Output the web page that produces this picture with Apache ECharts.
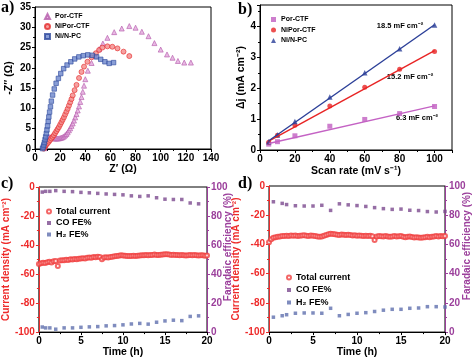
<!DOCTYPE html>
<html><head><meta charset="utf-8">
<script src="https://cdn.jsdelivr.net/npm/echarts@6/dist/echarts.min.js"></script>
<style>html,body{margin:0;padding:0;background:#fff}#c{width:474px;height:359px}</style>
</head><body><div id="c"></div>
<script>
// ---------- Panel a: Nyquist plots [Z', -Z''] ----------
const porNyquist = [[7.5,0.2],[8,0.8],[8.5,1.5],[9,2.1],[9.6,2.6],[10.3,2.9],[11,3.0],[12,2.9],[13,2.8],[14,2.7],[15,2.6],[16,2.6],[17,2.6],[18,2.6],[19,2.6],[20,2.7],[21,2.8],[22,2.9],[23,3.1],[24,3.4],[25,3.7],[26,4.1],[27,4.6],[28,5.1],[29,5.7],[30,6.3],[31,7.0],[32,7.8],[33,8.6],[34,9.5],[35,10.5],[36,11.6],[37,12.8],[38,14.1],[39,15.6],[40,17.2],[42,19.3],[45,21.2],[48,22.9],[51,24.6],[54,26.0],[57.6,27.4],[63,28.8],[69,29.7],[75,30.3],[80,29.9],[85,28.9],[90.3,27.8],[95,26.1],[100,24.5],[105,23.3],[109.4,22.5],[113.7,21.7],[118.7,21.3],[124,21.3]];
const niporNyquist = [[7,0.1],[7.5,0.4],[8,0.7],[8.5,0.9],[9,1.1],[10,1.4],[11,1.8],[12,2.2],[13,2.6],[14,3.0],[15,3.4],[16,3.9],[17,4.4],[18,4.9],[19,5.4],[20,6.0],[21,6.6],[22,7.2],[23,7.8],[24,8.5],[25,9.2],[26,9.9],[27,10.7],[28,11.5],[29,12.3],[30,13.2],[31.5,14.5],[33,15.8],[35,17.5],[37,19.0],[39,20.3],[41.7,21.5],[45,22.6],[48.4,23.6],[51,24.4],[53.6,25.0],[57.6,25.3],[61.5,25.2],[65.6,24.8],[70.4,24.0],[75,22.9]];
const ninNyquist = [[6,0.1],[6.5,0.5],[7,1.0],[7.5,1.6],[8,2.3],[8.5,3.0],[9,3.8],[9.5,4.7],[10,5.7],[10.5,6.8],[11,7.9],[11.6,9.1],[12.3,10.4],[13,11.8],[14,13.3],[15.3,14.8],[16.8,16.2],[18.6,17.4],[20.5,18.6],[22.8,19.8],[25.5,20.7],[28.5,21.5],[31.6,22.2],[34.9,22.7],[38.4,23.0],[42,23.2],[45.6,23.1],[49,22.7],[52.3,22.1],[55.6,21.5],[59,21.1],[62.5,21.3]];

// ---------- Panel b: Δj vs scan rate ----------
const scanRate = [5,10,20,40,60,80,100];
const porDj   = [0.19,0.27,0.46,0.77,0.99,1.18,1.41];
const niporDj = [0.25,0.48,0.80,1.43,2.03,2.62,3.19];
const ninDj   = [0.27,0.49,0.92,1.72,2.50,3.28,4.05];
const fitX = [5,100];
const porFit = [0.21,1.43];
const niporFit = [0.29,3.22];
const ninFit = [0.30,4.06];
const capLabels = ['18.5 mF cm⁻²','15.2 mF cm⁻²','6.3 mF cm⁻²'];

// ---------- Panels c, d: stability ----------
const timeDense = [0,0.25,0.5,0.75,1,1.25,1.5,1.75,2,2.25,2.5,2.75,3,3.25,3.5,3.75,4,4.25,4.5,4.75,5,5.25,5.5,5.75,6,6.25,6.5,6.75,7,7.25,7.5,7.75,8,8.25,8.5,8.75,9,9.25,9.5,9.75,10,10.25,10.5,10.75,11,11.25,11.5,11.75,12,12.25,12.5,12.75,13,13.25,13.5,13.75,14,14.25,14.5,14.75,15,15.25,15.5,15.75,16,16.25,16.5,16.75,17,17.25,17.5,17.75,18,18.25,18.5,18.75,19,19.25,19.5,19.75,20];
const currentC = [-53,-52.6,-52.2,-52.4,-51.8,-51.5,-52,-51.2,-51,-54.5,-50.6,-50.4,-50.5,-50.1,-50.3,-49.8,-49.9,-49.6,-49.8,-49.4,-49.3,-49.1,-49.2,-48.8,-48.6,-48.7,-48.3,-48.4,-48.1,-48.3,-49.8,-48.6,-48.4,-48.6,-48.2,-48.0,-47.8,-47.6,-47.3,-47.1,-47.2,-47.4,-47.6,-47.5,-47.6,-47.4,-47.5,-47.3,-47.2,-47.0,-47.1,-46.9,-47.0,-46.8,-46.9,-46.6,-46.8,-46.9,-46.7,-46.5,-46.4,-46.3,-46.6,-46.8,-46.7,-46.9,-46.8,-47,-46.9,-47.1,-47.2,-47,-46.9,-47.1,-46.8,-47,-47.2,-47.0,-47.1,-47.3,-47.2];
const currentD = [-38.5,-36.5,-35.5,-35,-34.8,-34.5,-34.3,-34.2,-34,-34.2,-33.8,-34,-33.9,-34.2,-34,-33.8,-33.7,-34,-34.2,-33.9,-34,-34.3,-34.6,-34.8,-34.5,-34,-33.5,-33,-32.6,-32.8,-33,-33.3,-33.5,-33.2,-33.4,-33.6,-33.3,-33.5,-33.8,-33.7,-34,-33.8,-34,-34.2,-34,-34.3,-34.1,-34.4,-37,-34.5,-34.2,-34.4,-34.6,-34.3,-34.5,-34.8,-34.5,-34.2,-34.6,-34.4,-34.3,-34.7,-35,-34.8,-34.6,-34.9,-35.2,-35,-35.3,-35.5,-35.2,-35,-34.8,-35.1,-34.7,-34.5,-34.3,-34.6,-34.2,-34.4,-34.3];
const timeFeC = [0.4,0.8,1.3,2,3,4,5,6,7,8,9,10,11,12,13,14,15,16,17,18,19];
const coFeC = [96.5,97,97,97.5,97,96.8,96.3,96,95.6,95.2,94.9,94.6,93.9,93.5,93.9,92.6,91.6,91.4,91.4,89,88.4];
const h2FeC = [3.5,2.9,2.9,2,2.9,2.9,3.3,3.6,3.8,4.3,4.5,5,5.6,6,5.5,6.8,7.7,8.2,7.9,10.8,11.2];
const timeFeD = [0.5,1.5,2,3,4,5,6,7,8,9,10,11,12,13,14,15,16,17,18,19,20];
const coFeD = [89.2,88.1,87.3,86.5,86.3,86.3,86.8,83.3,87.8,87.1,86.6,86.0,85.2,84.5,84.0,84.2,83.4,83.2,82.5,82.2,82.6];
const h2FeD = [10.2,11.2,11.9,12.9,13.1,13.1,12.9,16.3,11.2,12.1,12.9,13.3,14.1,15.0,15.6,15.6,16.3,16.5,17.4,17.4,17.2];

const F = '"Liberation Sans", Arial, sans-serif';
const RED = '#ee2b2b', PURP = '#9b3f9b';
const zip = (xs, ys) => xs.map((x,i)=>[x, ys[i]]);

function ax(extra, color){
  color = color || '#000';
  const a = {type:'value',
    axisLine:{show:true,onZero:false,lineStyle:{color:color,width:1}},
    axisTick:{show:true,length:3,lineStyle:{color:color}},
    minorTick:{show:true,splitNumber:2,length:2,lineStyle:{color:color}},
    splitLine:{show:false}, minorSplitLine:{show:false},
    axisLabel:{color:color,fontSize:10,fontWeight:'bold',fontFamily:F,margin:4},
    nameLocation:'middle',
    nameTextStyle:{color:color,fontSize:10.5,fontWeight:'bold',fontFamily:F}};
  for (const k in extra){
    if (extra[k] && typeof extra[k]==='object' && !Array.isArray(extra[k]) && a[k]) a[k]=Object.assign({},a[k],extra[k]);
    else a[k]=extra[k];
  }
  return a;
}

const chart = echarts.init(document.getElementById('c'), null, {renderer:'canvas'});
const legendText = s => ({fontSize:s,fontWeight:'bold',fontFamily:F,color:'#000'});
const serifBold = 'bold 16px "Liberation Serif", "Times New Roman", serif';

const option = {
  animation:false,
  backgroundColor:'#fff',
  grid:[
    {left:35,top:7,width:176,height:142,show:true,borderColor:'#000',borderWidth:1},
    {left:260,top:5,width:192,height:145,show:true,borderColor:'#000',borderWidth:1},
    {left:32,top:187,width:175,height:146,show:true,borderColor:'#000',borderWidth:1},
    {left:269,top:186,width:176,height:147,show:true,borderColor:'#000',borderWidth:1}
  ],
  xAxis:[
    ax({gridIndex:0,min:0,max:140,interval:20,name:'Z′ (Ω)',nameGap:15}),
    ax({gridIndex:1,min:0,max:110,interval:20,name:'Scan rate (mV s⁻¹)',nameGap:16,axisLabel:{showMaxLabel:false}}),
    ax({gridIndex:2,min:0,max:20,interval:5,name:'Time (h)',nameGap:10}),
    ax({gridIndex:3,min:0,max:20,interval:5,name:'Time (h)',nameGap:10})
  ],
  yAxis:[
    ax({gridIndex:0,min:0,max:35,interval:5,name:'-Z″ (Ω)',nameGap:20}),
    ax({gridIndex:1,min:0,max:4.7,interval:1,name:'Δj (mA cm⁻²)',nameGap:10,axisLabel:{showMaxLabel:false}}),
    ax({gridIndex:2,min:-100,max:0,interval:20,name:'Current density (mA cm⁻²)',nameGap:21,nameTextStyle:{fontSize:10}},RED),
    ax({gridIndex:2,position:'right',min:0,max:100,interval:20},PURP),
    ax({gridIndex:3,min:-100,max:0,interval:20,name:'Current density (mA cm⁻²)',nameGap:22,nameTextStyle:{fontSize:10}},RED),
    ax({gridIndex:3,position:'right',min:0,max:100,interval:20},PURP)
  ],
  legend:[
    {orient:'vertical',left:39,top:8,itemWidth:5,itemHeight:5,itemGap:3,textStyle:legendText(7),data:['Por-CTF','NiPor-CTF','Ni/N-PC']},
    {orient:'vertical',left:266,top:11,itemWidth:5,itemHeight:5,itemGap:3.5,textStyle:legendText(7),data:['Por-CTF ','NiPor-CTF ','Ni/N-PC ']},
    {orient:'vertical',left:41,top:202,itemWidth:4,itemHeight:4,itemGap:2.5,textStyle:legendText(9),data:['Total current','CO FE%','H₂ FE%']},
    {orient:'vertical',left:281,top:268,itemWidth:4,itemHeight:4,itemGap:3.5,textStyle:legendText(9),data:['Total current ','CO FE% ','H₂ FE% ']}
  ],
  series:[
    {name:'Por-CTF',type:'scatter',xAxisIndex:0,yAxisIndex:0,symbol:'triangle',symbolSize:5,data:porNyquist,itemStyle:{color:'#e2a6dc',borderColor:'#b45aaa',borderWidth:0.8}},
    {name:'NiPor-CTF',type:'scatter',xAxisIndex:0,yAxisIndex:0,symbol:'circle',symbolSize:5,data:niporNyquist,itemStyle:{color:'#f48a8a',borderColor:'#e42a2a',borderWidth:0.8}},
    {name:'Ni/N-PC',type:'scatter',xAxisIndex:0,yAxisIndex:0,symbol:'rect',symbolSize:4.5,data:ninNyquist,itemStyle:{color:'#6c86cc',borderColor:'#2f4a9e',borderWidth:0.8}},

    {name:'fitPor',type:'line',xAxisIndex:1,yAxisIndex:1,data:zip(fitX,porFit),showSymbol:false,lineStyle:{color:'#c462c4',width:1.4},silent:true},
    {name:'fitNiPor',type:'line',xAxisIndex:1,yAxisIndex:1,data:zip(fitX,niporFit),showSymbol:false,lineStyle:{color:'#e82424',width:1.4},silent:true},
    {name:'fitNiN',type:'line',xAxisIndex:1,yAxisIndex:1,data:zip(fitX,ninFit),showSymbol:false,lineStyle:{color:'#2b3f98',width:1.4},silent:true},
    {name:'Por-CTF ',type:'scatter',xAxisIndex:1,yAxisIndex:1,symbol:'rect',symbolSize:5,data:zip(scanRate,porDj),itemStyle:{color:'#c05ec0'}},
    {name:'NiPor-CTF ',type:'scatter',xAxisIndex:1,yAxisIndex:1,symbol:'circle',symbolSize:5,data:zip(scanRate,niporDj),itemStyle:{color:'#e82424'}},
    {name:'Ni/N-PC ',type:'scatter',xAxisIndex:1,yAxisIndex:1,symbol:'triangle',symbolSize:5.5,data:zip(scanRate,ninDj),itemStyle:{color:'#2b3f98'}},

    {name:'Total current',type:'scatter',xAxisIndex:2,yAxisIndex:2,symbol:'emptyCircle',symbolSize:4,data:zip(timeDense,currentC),itemStyle:{color:'#f04040',borderWidth:0.9}},
    {name:'CO FE%',type:'scatter',xAxisIndex:2,yAxisIndex:3,symbol:'rect',symbolSize:3.5,data:zip(timeFeC,coFeC),itemStyle:{color:'#7c4a8e'}},
    {name:'H₂ FE%',type:'scatter',xAxisIndex:2,yAxisIndex:3,symbol:'rect',symbolSize:3.5,data:zip(timeFeC,h2FeC),itemStyle:{color:'#5f6fae'}},

    {name:'Total current ',type:'scatter',xAxisIndex:3,yAxisIndex:4,symbol:'emptyCircle',symbolSize:4,data:zip(timeDense,currentD),itemStyle:{color:'#f04040',borderWidth:0.9}},
    {name:'CO FE% ',type:'scatter',xAxisIndex:3,yAxisIndex:5,symbol:'rect',symbolSize:3.5,data:zip(timeFeD,coFeD),itemStyle:{color:'#7c4a8e'}},
    {name:'H₂ FE% ',type:'scatter',xAxisIndex:3,yAxisIndex:5,symbol:'rect',symbolSize:3.5,data:zip(timeFeD,h2FeD),itemStyle:{color:'#5f6fae'}}
  ],
  graphic:[
    {type:'text',left:1,top:0,style:{text:'a)',font:serifBold,fill:'#000'}},
    {type:'text',left:238,top:2,style:{text:'b)',font:serifBold,fill:'#000'}},
    {type:'text',left:1,top:176,style:{text:'c)',font:serifBold,fill:'#000'}},
    {type:'text',left:238,top:176,style:{text:'d)',font:serifBold,fill:'#000'}},
    {type:'text',x:400,y:26,style:{text:capLabels[0],font:'bold 7.5px '+F,fill:'#000',textAlign:'center',textVerticalAlign:'middle'}},
    {type:'text',x:410,y:77,style:{text:capLabels[1],font:'bold 7.5px '+F,fill:'#000',textAlign:'center',textVerticalAlign:'middle'}},
    {type:'text',x:417,y:118,style:{text:capLabels[2],font:'bold 7.5px '+F,fill:'#000',textAlign:'center',textVerticalAlign:'middle'}},
    {type:'text',x:228,y:247,rotation:Math.PI/2,style:{text:'Faradaic efficiency (%)',font:'bold 10px '+F,fill:PURP,textAlign:'center',textVerticalAlign:'middle'}},
    {type:'text',x:467,y:246,rotation:Math.PI/2,style:{text:'Faradaic efficiency (%)',font:'bold 10px '+F,fill:PURP,textAlign:'center',textVerticalAlign:'middle'}}
  ]
};
chart.setOption(option);
</script>
</body></html>
